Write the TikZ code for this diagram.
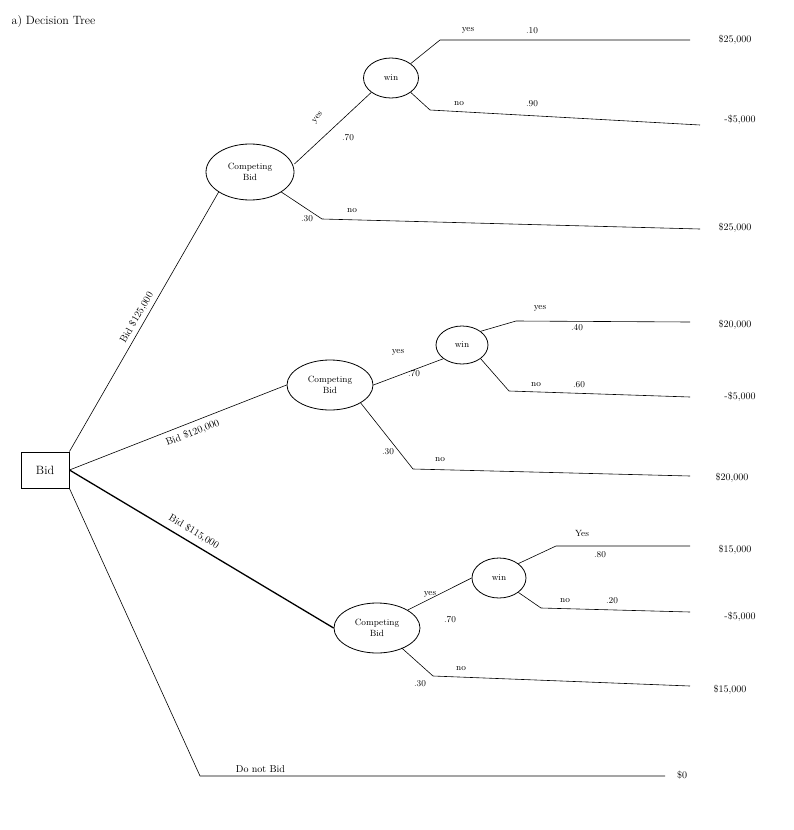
\documentclass[tikz,border=0pt]{standalone}
\usetikzlibrary{shapes.geometric}
\begin{document}
\begin{tikzpicture}[x=1pt,y=-1pt,line width=0.6pt,
  lbl/.style={font=\small,inner sep=1pt},
  pay/.style={anchor=center},
  chance/.style={draw,ellipse,line width=0.8pt,align=center,font=\small,inner sep=1pt,minimum width=#1},
  ]
\useasboundingbox (0,0) rectangle (794,830);
\node[anchor=west,font=\large] (title) at (8,22) {a) Decision Tree};
\node[draw,line width=0.9pt,minimum width=48pt,minimum height=36pt,font=\large] (bid) at (45,470) {Bid};
% nodes
\node[chance=88pt,minimum height=56pt] (cb1) at (250,172) {Competing\\Bid};
\node[chance=55pt,minimum height=40pt] (w1) at (391,78) {win};
\node[chance=86pt,minimum height=50pt] (cb2) at (330,385) {Competing\\Bid};
\node[chance=52pt,minimum height=38pt] (w2) at (462,345) {win};
\node[chance=86pt,minimum height=50pt] (cb3) at (377,628) {Competing\\Bid};
\node[chance=54pt,minimum height=40pt] (w3) at (499,578) {win};
% end coordinates
\coordinate (e1) at (690,40); \coordinate (e2) at (700,125); \coordinate (e3) at (700,229);
\coordinate (e4) at (690,322); \coordinate (e5) at (690,397); \coordinate (e6) at (690,476);
\coordinate (e7) at (690,546); \coordinate (e8) at (690,612); \coordinate (e9) at (690,686);
\coordinate (e10) at (665,776);
% payoffs
\node[pay] (p1) at (735,40) {\$25,000};
\node[pay] (p2) at (740,120) {-\$5,000};
\node[pay] (p3) at (735,228) {\$25,000};
\node[pay] (p4) at (735,325) {\$20,000};
\node[pay] (p5) at (740,397) {-\$5,000};
\node[pay] (p6) at (732,478) {\$20,000};
\node[pay] (p7) at (735,550) {\$15,000};
\node[pay] (p8) at (740,617) {-\$5,000};
\node[pay] (p9) at (730,690) {\$15,000};
\node[pay] (p10) at (682,775) {\$0};
% Bid branches
\draw (bid.north east) -- node[sloped,above,pos=0.5] {Bid \$125,000} (cb1.south west);
\draw (bid.east) -- node[sloped,below=2pt,pos=0.55] {Bid \$120,000} (cb2.west);
\draw[line width=1.3pt] (bid.east) -- node[sloped,above=2pt,pos=0.45] {Bid \$115,000} (cb3.west);
\draw (bid.south east) -- (200,776) -- node[above,pos=0.13] (dnb) {Do not Bid} (e10);
% tree 1
\draw (cb1.east) ++(0,-8) -- (w1.south west);
\node[lbl,rotate=50] at (318,118) {yes};
\node[lbl] at (348,138) {.70};
\draw (w1.north east) -- (440,40) -- (e1);
\node[lbl] at (468,30) {yes}; \node[lbl] at (532,31) {.10};
\draw (w1.south east) -- (430,110) -- (e2);
\node[lbl] at (459,104) {no}; \node[lbl] at (532,104) {.90};
\draw (cb1.south east) -- (322,219) -- (e3);
\node[lbl] at (307,219) {.30}; \node[lbl] at (352,211) {no};
% tree 2
\draw (cb2.east) -- (w2.south west);
\node[lbl] at (398,352) {yes}; \node[lbl] at (414,374) {.70};
\draw (w2.north east) -- (516,321) -- (e4);
\node[lbl] at (540,308) {yes}; \node[lbl] at (577,328) {.40};
\draw (w2.south east) -- (509,391) -- (e5);
\node[lbl] at (536,385) {no}; \node[lbl] at (579,385) {.60};
\draw (cb2.south east) -- (413,469) -- (e6);
\node[lbl] at (388,452) {.30}; \node[lbl] at (440,460) {no};
% tree 3
\draw (cb3.north east) -- (w3.west);
\node[lbl] at (430,594) {yes}; \node[lbl] at (450,620) {.70};
\draw (w3.north east) -- (556,546) -- (e7);
\node[lbl] at (582,533) {Yes}; \node[lbl] at (600,555) {.80};
\draw (w3.south east) -- (541,608) -- (e8);
\node[lbl] at (565,601) {no}; \node[lbl] at (612,601) {.20};
\draw (cb3.south east) ++(-6,2) -- (433,676) -- (e9);
\node[lbl] at (420,684) {.30}; \node[lbl] at (461,669) {no};
\end{tikzpicture}
\end{document}
